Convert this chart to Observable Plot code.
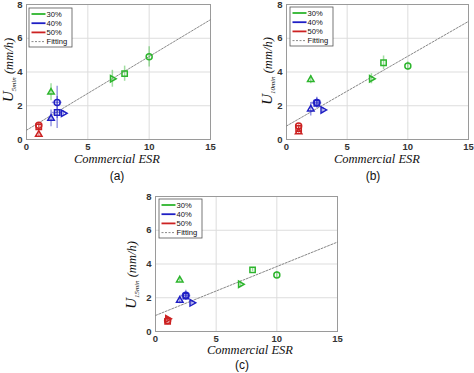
<!DOCTYPE html>
<html><head><meta charset="utf-8">
<script src="https://cdn.jsdelivr.net/npm/d3@7"></script>
<script src="https://cdn.jsdelivr.net/npm/@observablehq/plot@0.6"></script>
<style>
body{margin:0;background:#fff;}
#wrap{position:relative;width:474px;height:373px;overflow:hidden;background:#fff;}
.panel{position:absolute;}
</style></head><body><div id="wrap"></div>
<script>
// ---- data ----
const panelNames = ["(a)", "(b)", "(c)"];
const subscripts = ["5min", "10min", "15min"];
const xLabelText = "Commercial ESR";
const unitText = "(mm/h)";
const groups = ["30%", "40%", "50%"];
const groupColors = ["#2db52d", "#1f1fc4", "#cc2222"];
const fitLabel = "Fitting";
const xTicks = [0, 5, 10, 15];
const yTicks = [0, 2, 4, 6, 8];
const pointGroup = ["30%","30%","30%","30%","40%","40%","40%","40%","50%","50%","50%"];
const esr = [2, 7, 8, 10, 2.5, 2.5, 2, 3, 1, 1, 1];

const uA = [2.8, 3.6, 3.9, 4.9, 2.2, 1.6, 1.25, 1.55, 0.85, 0.75, 0.3];
const yErrA = [0.5, 0.5, 0.45, 0.6, 0.95, 0.95, 0.5, 0.15, 0.15, 0.15, 0.1];
const xErrA = [0, 0, 0, 0, 0.4, 0.4, 0, 0, 0, 0, 0];
const shapeA = ["tri","right","square","circle","circle","square","tri","right","circle","square","tri"];
const fitA = [0.55, 7.1];

const uB = [3.55, 3.6, 4.55, 4.35, 2.2, 2.15, 1.8, 1.75, 0.8, 0.65, 0.45];
const yErrB = [0.25, 0.3, 0.4, 0.25, 0.3, 0.3, 0.4, 0.15, 0.15, 0.15, 0.1];
const xErrB = [0, 0, 0, 0, 0.4, 0.4, 0, 0, 0, 0, 0];
const shapeB = ["tri","right","square","circle","circle","square","tri","right","circle","square","tri"];
const fitB = [0.8, 7.0];

const uC = [3.05, 2.8, 3.65, 3.35, 2.15, 2.1, 1.85, 1.7, 0.75, 0.65, 0.6];
const yErrC = [0.1, 0.2, 0.1, 0.2, 0.3, 0.25, 0.2, 0.1, 0.1, 0.1, 0.1];
const xErrC = [0, 0, 0, 0, 0.4, 0.4, 0, 0, 0, 0, 0];
const shapeC = ["tri","right","square","circle","circle","square","tri","right","right","circle","square"];
const fitC = [0.95, 5.3];

// ---- layout ----
const layouts = [
  {left: 0, top: 0, width: 237, height: 185, mL: 26, mR: 27, mT: 4, mB: 46, yl: [13, 70], xl: [117, 159], nm: [117, 176], lg: [29, 8]},
  {left: 237, top: 0, width: 237, height: 185, mL: 49, mR: 6, mT: 4, mB: 46, yl: [35, 71], xl: [140, 159], nm: [136, 176], lg: [53, 7]},
  {left: 118, top: 180, width: 237, height: 193, mL: 37, mR: 18, mT: 16, mB: 42, yl: [18, 95], xl: [132, 170], nm: [124, 185], lg: [41, 19]}
];
const panelData = [
  [uA, yErrA, xErrA, shapeA, fitA],
  [uB, yErrB, xErrB, shapeB, fitB],
  [uC, yErrC, xErrC, shapeC, fitC]
];

const wrap = d3.select("#wrap");
const serif = "'Liberation Serif','DejaVu Serif',serif";
const sans = "'Liberation Sans',Arial,sans-serif";

panelData.forEach(([u, ye, xe, shp, fit], i) => {
  const L = layouts[i];
  const data = esr.map((x, k) => ({x, u: u[k], ye: ye[k], xe: xe[k], g: pointGroup[k], s: shp[k]}));
  const fitLine = [{x: 0, y: fit[0]}, {x: 15, y: fit[1]}];
  const svg = Plot.plot({
    width: L.width, height: L.height,
    marginLeft: L.mL, marginRight: L.mR, marginTop: L.mT, marginBottom: L.mB,
    x: {domain: [0, 15], ticks: xTicks},
    y: {domain: [0, 8], ticks: yTicks},
    r: {type: "identity"},
    color: {domain: groups, range: groupColors},
    symbol: {domain: ["circle","square","tri","right"], range: ["circle","square","triangle","triangle"]},
    style: {fontFamily: sans, overflow: "visible", background: "transparent"},
    marks: [
      Plot.gridX(xTicks, {stroke: "#ddd", strokeOpacity: 1}),
      Plot.gridY(yTicks, {stroke: "#ddd", strokeOpacity: 1}),
      Plot.frame({stroke: "#9a9a9a"}),
      Plot.axisX(xTicks, {label: null, tickSize: 0, tickPadding: 4, fontWeight: "bold", fontSize: 9.5, fill: "#333"}),
      Plot.axisY(yTicks, {label: null, tickSize: 0, tickPadding: 4, fontWeight: "bold", fontSize: 9.5, fill: "#333"}),
      Plot.line(fitLine, {x: "x", y: "y", stroke: "#888", strokeWidth: 1, strokeDasharray: "2,1.5"}),
      Plot.ruleX(data, {x: "x", y1: d => d.u - d.ye, y2: d => d.u + d.ye, stroke: "g", strokeOpacity: 0.45, strokeWidth: 1.5}),
      Plot.ruleY(data.filter(d => d.xe > 0), {y: "u", x1: d => d.x - d.xe, x2: d => d.x + d.xe, stroke: "g", strokeOpacity: 0.45, strokeWidth: 1.5}),
      Plot.dot(data, {x: "x", y: "u", symbol: "s", stroke: "g", fill: "none", strokeWidth: 1.5,
        r: d => (d.s === "tri" || d.s === "right") ? 2.4 : 3,
        rotate: d => d.s === "right" ? 90 : 0})
    ]
  });
  const div = wrap.append("div").attr("class", "panel")
    .style("left", L.left + "px").style("top", L.top + "px");
  div.node().appendChild(svg);
  const s = d3.select(svg);
  // y label
  const yl = s.append("text")
    .attr("transform", `translate(${L.yl[0]},${L.yl[1]}) rotate(-90)`)
    .attr("text-anchor", "middle").attr("font-family", serif).attr("font-style", "italic")
    .attr("font-size", 12.5).attr("fill", "#111");
  yl.append("tspan").text("U").attr("font-size", 15);
  yl.append("tspan").text(subscripts[i]).attr("font-size", 7).attr("dy", 3);
  yl.append("tspan").text(" " + unitText).attr("dy", -3);
  // x label
  s.append("text").attr("x", L.xl[0]).attr("y", L.xl[1]).attr("dy", "0.35em")
    .attr("text-anchor", "middle").attr("font-family", serif).attr("font-style", "italic")
    .attr("font-size", 12.5).attr("fill", "#111").text(xLabelText);
  // panel name
  s.append("text").attr("x", L.nm[0]).attr("y", L.nm[1]).attr("dy", "0.35em")
    .attr("text-anchor", "middle").attr("font-family", sans)
    .attr("font-size", 12).attr("fill", "#111").text(panelNames[i]);
  // legend
  const lg = s.append("g").attr("transform", `translate(${L.lg[0]},${L.lg[1]})`);
  lg.append("rect").attr("width", 43).attr("height", 39).attr("fill", "white").attr("stroke", "#555").attr("stroke-width", 0.8);
  const entries = groups.map((g, k) => ({label: g, color: groupColors[k], dash: null}))
    .concat([{label: fitLabel, color: "#888", dash: "2,1.5"}]);
  entries.forEach((e, k) => {
    const yy = 6 + k * 9.2;
    lg.append("line").attr("x1", 2.5).attr("x2", 16.5).attr("y1", yy).attr("y2", yy)
      .attr("stroke", e.color).attr("stroke-width", e.dash ? 1 : 1.8)
      .attr("stroke-dasharray", e.dash);
    lg.append("text").attr("x", 17.5).attr("y", yy).attr("dy", "0.35em").attr("text-anchor", "start")
      .attr("font-family", sans).attr("font-size", 7.6).attr("fill", "#111").text(e.label);
  });
});
</script></body></html>
